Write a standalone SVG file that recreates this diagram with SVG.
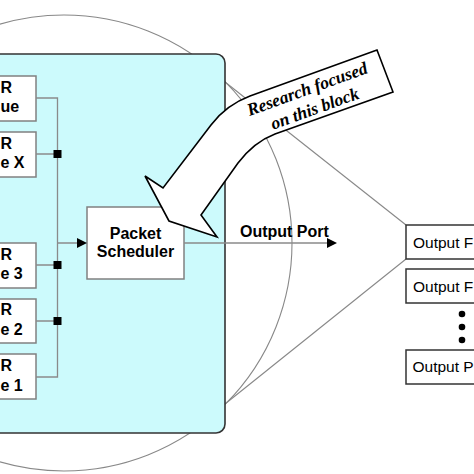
<svg xmlns="http://www.w3.org/2000/svg" width="474" height="474" viewBox="0 0 474 474">
<defs>
<style>
.q{fill:#fff;stroke:#808080;stroke-width:1.5}
.t{font-family:"Liberation Sans",Arial,sans-serif;font-weight:bold;font-size:16px;fill:#000}
.o{font-family:"Liberation Sans",Arial,sans-serif;font-size:15.5px;fill:#000}
.w{fill:none;stroke:#8a8a8a;stroke-width:1.3}
.op{fill:#fff;stroke:#333;stroke-width:1.5}
.j{fill:#000}
</style>
</defs>
<rect width="474" height="474" fill="#fff"/>
<g id="zoom-outline">
<circle cx="64" cy="243" r="228" fill="none" stroke="#888" stroke-width="1.1"/>
<line x1="225" y1="82" x2="406" y2="225" stroke="#888" stroke-width="1.1"/>
<line x1="225" y1="404" x2="406" y2="259" stroke="#888" stroke-width="1.1"/>
</g>
<g id="router-panel">
<rect x="-40" y="54" width="265" height="379" rx="9" fill="#ccfafc" stroke="#333" stroke-width="1.6"/>
</g>
<g id="queue-top">
<rect class="q" x="-60" y="76" width="96" height="45"/>
<text class="t" x="0.5" y="93">R</text>
<text class="t" x="0.5" y="112">ue</text>
</g>
<g id="queue-x">
<rect class="q" x="-60" y="132" width="96" height="45"/>
<text class="t" x="0.5" y="149">R</text>
<text class="t" x="0.5" y="168">e X</text>
</g>
<g id="queue-3">
<rect class="q" x="-60" y="243" width="96" height="45"/>
<text class="t" x="0.5" y="260">R</text>
<text class="t" x="0.5" y="279">e 3</text>
</g>
<g id="queue-2">
<rect class="q" x="-60" y="299" width="96" height="44"/>
<text class="t" x="0.5" y="315">R</text>
<text class="t" x="0.5" y="335">e 2</text>
</g>
<g id="queue-1">
<rect class="q" x="-60" y="354" width="96" height="45"/>
<text class="t" x="0.5" y="371">R</text>
<text class="t" x="0.5" y="391">e 1</text>
</g>
<g id="packet-scheduler">
<rect class="q" x="87" y="207" width="97" height="72"/>
<text class="t" x="135.5" y="239" text-anchor="middle">Packet</text>
<text class="t" x="135.5" y="257" text-anchor="middle">Scheduler</text>
</g>
<g id="connectors">
<path class="w" d="M36,98 H57.5 V377 H36 M36,154 H57.5 M36,265 H57.5 M36,321 H57.5 M57.5,243 H78"/>
<rect class="j" x="53.5" y="150" width="8" height="8"/>
<rect class="j" x="53.5" y="261" width="8" height="8"/>
<rect class="j" x="53.5" y="317" width="8" height="8"/>
<polygon class="j" points="77,238 87,243 77,248"/>
<line class="w" x1="184" y1="243" x2="328" y2="243"/>
<polygon class="j" points="327,238 337,243 327,248"/>
<text class="t" x="240" y="237">Output Port</text>
</g>
<g id="output-ports">
<rect class="op" x="406" y="225" width="100" height="34"/>
<text class="o" x="413" y="248">Output F</text>
<rect class="op" x="406" y="269" width="100" height="34"/>
<text class="o" x="413" y="292">Output F</text>
<circle class="j" cx="462" cy="314" r="3.3"/>
<circle class="j" cx="462" cy="327" r="3.3"/>
<circle class="j" cx="462" cy="340" r="3.3"/>
<rect class="op" x="406" y="350" width="100" height="34"/>
<text class="o" x="412.5" y="372">Output P</text>
</g>
<g id="research-callout">
<path d="M377,50 L250,96 Q226,105 211,125 L163,188 L145,176 L169,221 L217,237 L201,215 L238,163 Q254,142 275,134 L393,92 Z" fill="#fff" stroke="#000" stroke-width="1.6" stroke-linejoin="miter"/>
<g transform="translate(312,104) rotate(-20)" font-family="'Liberation Serif','Times New Roman',serif" font-weight="bold" font-style="italic" font-size="17.5" text-anchor="middle">
<text x="0.5" y="-10">Research focused</text>
<text x="1" y="11">on this block</text>
</g>
</g>
</svg>
